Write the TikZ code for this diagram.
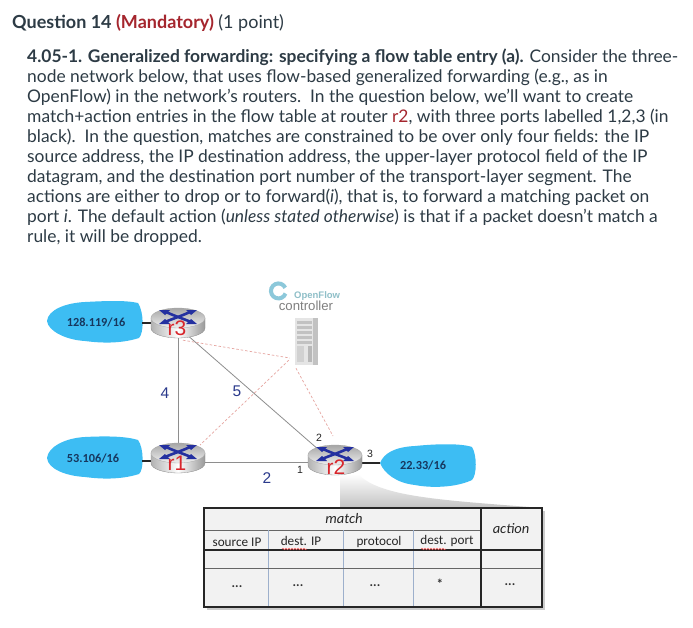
\documentclass[tikz,border=0pt]{standalone}
\usepackage{fontspec}
\setmainfont{Lato}
\newfontfamily\calib{Carlito}
\newfontfamily\arl{Liberation Sans}
\usetikzlibrary{decorations.pathmorphing,calc}
\definecolor{ink}{HTML}{2D3B45}
\definecolor{mand}{HTML}{A5262E}
\definecolor{cloudc}{HTML}{3DBDF3}
\definecolor{cltxt}{HTML}{17375E}
\definecolor{linkc}{HTML}{8E8E8E}
\definecolor{dashc}{HTML}{E6A5A0}
\definecolor{numc}{HTML}{2B3A8C}
\definecolor{tabf}{HTML}{F2F2F2}
\definecolor{rtrb}{HTML}{2430A0}
\definecolor{rtrr}{HTML}{D8262C}
\definecolor{tvc}{HTML}{9DB0CC}
\definecolor{logoc}{HTML}{8CC8DA}
\definecolor{ofc}{HTML}{8FBFC8}
\tikzset{
 x=1pt,y=-1pt,
 txt/.style={anchor=base west,inner sep=0,font=\fontsize{17.4}{20}\selectfont,text=ink},
 lnk/.style={draw=linkc,line width=0.8pt},
 blk/.style={draw=black!85,line width=1.6pt},
 ctl/.style={draw=dashc,line width=0.7pt,dash pattern=on 2.5pt off 2pt},
 rtrbox/.style={minimum width=54pt,minimum height=30pt,inner sep=0},
 rlab/.style={inner sep=0,text=rtrr,font=\arl\fontsize{21}{22}\selectfont},
 cl/.style={inner sep=0,text=cltxt,font=\calib\bfseries\fontsize{12.3}{13}\selectfont},
 wnum/.style={inner sep=0,text=numc,font=\arl\fontsize{15.5}{16}\selectfont},
 pnum/.style={inner sep=0,text=black!85,font=\arl\fontsize{10.5}{11}\selectfont},
 tb/.style={inner sep=0,text=black!85,font=\calib\fontsize{13.2}{14}\selectfont},
 tbd/.style={inner sep=0,text=black!80,font=\calib\bfseries\fontsize{13.2}{14}\selectfont},
 tbi/.style={inner sep=0,text=black!85,font=\calib\itshape\fontsize{14.5}{15}\selectfont},
 tl/.style={draw=black!60,line width=0.6pt},
 tv/.style={draw=tvc,line width=0.8pt},
 tk/.style={draw=black!85,line width=1.2pt},
 wav/.style={draw=red!65!white,line width=0.5pt,decorate,decoration={snake,amplitude=0.8pt,segment length=3pt}},
}
\newcommand{\rtrart}[1]{%
 \begin{scope}[shift={(#1)}]
  \shade[left color=black!30,right color=black!40,middle color=white,draw=black!45,line width=.3pt] (-27,-5) -- (-27,5) .. controls (-27,11) and (-14,15) .. (0,15) .. controls (14,15) and (27,11) .. (27,5) -- (27,-5) -- cycle;
  \shade[top color=black!35,bottom color=black!6,draw=black!35,line width=.3pt] (0,-5) ellipse[x radius=27,y radius=10];
  \draw[rtrb,line width=2.6pt] (-13,-11.5) .. controls (-6,-8) and (6,-4) .. (13,-1);
  \draw[rtrb,line width=2.6pt] (13,-11.5) .. controls (6,-8) and (-6,-4) .. (-13,-1);
  \fill[rtrb] (-19,-13) -- (-8,-13) -- (-13,-8) -- cycle (19,-13) -- (8,-13) -- (13,-8) -- cycle
   (-19,1) -- (-8,1) -- (-13,-4) -- cycle (19,1) -- (8,1) -- (13,-4) -- cycle;
 \end{scope}}
\begin{document}
\begin{tikzpicture}
\useasboundingbox (0,0) rectangle (693,628);
\fill[white] (0,0) rectangle (693,628);
% text
\node[txt,font=\bfseries\fontsize{18}{20}\selectfont] (q) at (12,29) {Question 14 \textcolor{mand}{(Mandatory)} \mdseries (1 point)};
\node[txt] (l1) at (27,63) {\textbf{4.05-1. Generalized forwarding: specifying a flow table entry (a).} Consider the three-};
\node[txt] (l2) at (27,83) {node network below, that uses flow-based generalized forwarding (e.g., as in};
\node[txt] (l3) at (27,103) {OpenFlow) in the network's routers.\ \ In the question below, we'll want to create};
\node[txt] (l4) at (27,123) {match+action entries in the flow table at router \textcolor{mand}{r2}, with three ports labelled 1,2,3 (in};
\node[txt] (l5) at (27,143) {black).\ \ In the question, matches are constrained to be over only four fields: the IP};
\node[txt] (l6) at (27,163) {source address, the IP destination address, the upper-layer protocol field of the IP};
\node[txt] (l7) at (27,183) {datagram, and the destination port number of the transport-layer segment. The};
\node[txt] (l8) at (27,203) {actions are either to drop or to forward(\textit{i}), that is, to forward a matching packet on};
\node[txt] (l9) at (27,223) {port \textit{i}. The default action (\textit{unless stated otherwise}) is that if a packet doesn't match a};
\node[txt] (l10) at (27,243) {rule, it will be dropped.};
% anchors
\node[rtrbox] (r3) at (178,323) {};
\node[rtrbox] (r1) at (178,458) {};
\node[rtrbox] (r2) at (335,460) {};
\node[minimum width=24pt,minimum height=48pt,inner sep=0] (srv) at (307,342) {};
% funnel
\shade[top color=white,bottom color=black!24] (340,474) -- (340,508) -- (542,508) .. controls (440,500) and (380,497) .. (358,474) -- cycle;
% clouds
\fill[cloudc] (47,321) .. controls (48,310) and (65,303) .. (85,302) .. controls (105,301) and (125,300) .. (138,303) .. controls (144,312) and (144,333) .. (139,338) .. controls (120,344) and (100,343) .. (85,341) .. controls (66,340) and (48,331) .. (47,321) -- cycle;
\node[cl] (c3) at (96,322) {128.119/16};
\fill[cloudc] (47,458) .. controls (48,447) and (65,438) .. (85,437) .. controls (105,436) and (125,436) .. (138,440) .. controls (144,448) and (144,470) .. (139,474) .. controls (120,480) and (100,479) .. (85,477) .. controls (66,476) and (48,469) .. (47,458) -- cycle;
\node[cl] (c1) at (93,458) {53.106/16};
\fill[cloudc] (380,463) .. controls (384,453) and (395,447) .. (415,446) .. controls (435,444) and (460,443) .. (472,447) .. controls (477,455) and (477,475) .. (472,480) .. controls (455,488) and (430,488) .. (415,485) .. controls (396,483) and (384,473) .. (380,463) -- cycle;
\node[cl] (c2) at (423,465) {22.33/16};
% links
\draw[lnk] (r3) -- (r1);
\draw[lnk] ([yshift=-4pt]r3.center) -- ([yshift=-4pt]r2.center);
\draw[lnk] ([yshift=-4pt]r1.center) -- ([yshift=-2pt]r2.center);
\draw[blk] (r3.west) -- ++(-9,0);
\draw[blk] ([yshift=-3pt]r1.west) -- ++(-9,0);
\draw[blk] ([yshift=-3pt]r2.east) -- ++(18,0);
% control
\draw[ctl] (r3.south) ++(5,2) -- ([shift={(-5,16)}]srv.west);
\draw[ctl] (srv.south west) ++(-6,-6) -- ([shift={(22,-13)}]r1.center);
\draw[ctl] (srv.south) ++(-11,2) -- ([shift={(-2,-24)}]r2.center);
\rtrart{r3}\rtrart{r1}\rtrart{r2}
\node[rlab] (n3) at (177,328) {r3};
\node[rlab] (n1) at (177,463) {r1};
\node[rlab] (n2) at (336,467) {r2};
\node[wnum] (w4) at (165,393) {4};
\node[wnum] (w5) at (237,391) {5};
\node[wnum] (w2) at (267,478) {2};
\node[pnum] (p2) at (319,438) {2};
\node[pnum] (p1) at (300,470) {1};
\node[pnum] (p3) at (370,454) {3};
% server
\fill[black!10] (295,318) rectangle (318,365);
\fill[black!24] (313,318) rectangle (318,365);
\foreach \yy in {321,326,331,336,341}{\fill[black!24] (297,\yy) rectangle (312,\yy+2.5);}
\fill[black!18] (297,346) rectangle (304,362);
\fill[black!28] (308,346) rectangle (312,362);
% logo
\draw[logoc,line width=4pt] (285.5,293.5) arc[start angle=20,end angle=335,radius=7.5];
\node[inner sep=0,anchor=west,text=ofc,font=\arl\bfseries\fontsize{9.5}{10}\selectfont] (of) at (294,296) {OpenFlow};
\node[inner sep=0,text=black!50,font=\arl\fontsize{13.2}{14}\selectfont] (ct) at (306,305.5) {controller};
% table
\fill[black!20] (207,511) rectangle (545,610);
\fill[tabf] (204,508) rectangle (542,607);
\draw[tl] (204,530) -- (481,530);
\draw[tv] (268,530) -- (268,607) (343,530) -- (343,607) (413,530) -- (413,607);
\draw[tl] (204,568) -- (542,568);
\draw[tk] (204,550) -- (542,550);
\draw[tk] (481,508) -- (481,607);
\draw[tk] (204,508) rectangle (542,607);
\node[tbi] (tm) at (344,519) {match};
\node[tbi] (ta) at (511,529) {action};
\node[tb] (t1) at (237,542) {source IP};
\node[tb] (t2) at (301,541) {dest. IP};
\node[tb] (t3) at (379,542) {protocol};
\node[tb] (t4) at (447,541) {dest. port};
\draw[wav] (282,549) -- (307,549);
\draw[wav] (421,549) -- (446,549);
\node[tbd] (d1) at (237,587) {...};
\node[tbd] (d2) at (298,586) {...};
\node[tbd] (d3) at (375,586) {...};
\node[tbd] (d4) at (440,584) {*};
\node[tbd] (d5) at (510,585) {...};
\end{tikzpicture}
\end{document}
